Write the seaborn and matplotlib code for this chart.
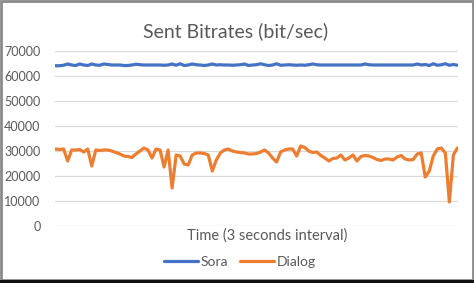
import numpy as np
import pandas as pd
import matplotlib
matplotlib.use("Agg")
import matplotlib.pyplot as plt
import seaborn as sns
from matplotlib.patches import Rectangle
from matplotlib.lines import Line2D

title = "Sent Bitrates (bit/sec)"
x_label = "Time (3 seconds interval)"
series_names = ["Sora", "Dialog"]
y_ticks = [0, 10000, 20000, 30000, 40000, 50000, 60000, 70000]

sora = [64100, 64100, 64300, 64800, 64400, 64200, 64800, 64400, 64200, 64800,
        64400, 64300, 64800, 64600, 64400, 64400, 64400, 64200, 64200, 64400,
        64700, 64500, 64400, 64400, 64400, 64400, 64400, 64300, 64400, 64800,
        64300, 64900, 64200, 64400, 64800, 64500, 64400, 64200, 64400, 64800,
        64400, 64500, 64400, 64400, 64300, 64400, 64500, 64800, 64200, 64400,
        64500, 64900, 64500, 64200, 64400, 64900, 64300, 64400, 64500, 64400,
        64300, 64400, 64300, 64500, 64800, 64500, 64400, 64400, 64400, 64400,
        64400, 64400, 64400, 64400, 64400, 64400, 64400, 64800, 64500, 64400,
        64400, 64400, 64400, 64400, 64400, 64400, 64400, 64400, 64400, 64400,
        64800, 64400, 64600, 64200, 64900, 64300, 64500, 64900, 64300, 64600,
        64300]

dialog = [30800, 30600, 30800, 26000, 30400, 30400, 30600, 29600, 30800, 24000,
          30400, 30200, 30400, 30400, 30000, 29400, 28800, 28000, 27800, 27400,
          28800, 30000, 31200, 30400, 27200, 30800, 30400, 23600, 30400, 15200,
          28400, 28000, 24800, 24400, 28400, 29200, 29200, 29000, 28400, 22000,
          26400, 29200, 30400, 30800, 30000, 29600, 29400, 29200, 28800, 28800,
          29000, 29600, 30400, 29200, 27200, 25600, 29600, 30400, 30800, 30800,
          28000, 32000, 31400, 30000, 29400, 29600, 28200, 27200, 26000, 27000,
          27200, 28400, 26400, 27200, 28400, 26000, 27800, 28200, 28000, 27400,
          26600, 26200, 26800, 26800, 26400, 27600, 28200, 26800, 26400, 26600,
          28800, 29200, 19600, 22000, 28000, 30800, 31200, 29200, 9600, 28400,
          31200]

n = len(dialog)
df = pd.DataFrame({
    "t": list(range(n)) * 2,
    "value": sora + dialog,
    "series": [series_names[0]] * n + [series_names[1]] * n,
})

sns.set_style("white")
plt.rcParams["font.family"] = ["Lato", "DejaVu Sans"]

W, H = 474, 283
fig = plt.figure(figsize=(W / 100, H / 100), dpi=100)
ax = fig.add_axes([55 / W, 1 - 226 / H, (458 - 55) / W, (226 - 51) / H])

palette = {"Sora": "#4472C4", "Dialog": "#ED7D31"}
sns.lineplot(data=df, x="t", y="value", hue="series", palette=palette,
             linewidth=2.3, ax=ax, legend=False)

ax.set_xlim(-0.15, n - 1 + 0.15)
ax.set_ylim(0, 70000)
ax.set_yticks(y_ticks)
ax.set_yticklabels([str(v) for v in y_ticks], color="#595959", fontsize=9)
ax.set_xticks([])
ax.tick_params(axis="y", length=0, pad=10.5)
ax.grid(axis="y", color="#D9D9D9", linewidth=0.9)
ax.set_axisbelow(True)
for s in ax.spines.values():
    s.set_visible(False)
ax.set_xlabel("")
ax.set_ylabel("")

fig.text(236 / W, 1 - 31 / H, title, ha="center", va="center",
         fontsize=14, color="#595959")
fig.text(267 / W, 1 - 236 / H, x_label, ha="center", va="center",
         fontsize=10.5, color="#595959")

handles = [Line2D([], [], color=palette[s], linewidth=2.3) for s in series_names]
fig.legend(handles, series_names, loc="center", bbox_to_anchor=(240 / W, 1 - 262 / H),
           ncol=2, frameon=False, fontsize=10, handlelength=2.4, handletextpad=0.2,
           columnspacing=0.9, labelcolor="#595959")

fig.patches.append(Rectangle((0.002, 0.01), 0.996, 0.985, transform=fig.transFigure,
                             fill=False, edgecolor="#8a8a8a", linewidth=2.0))
fig.patches.append(Rectangle((0, 0), 1, 3 / H, transform=fig.transFigure,
                             facecolor="#111111", edgecolor="none"))

fig.savefig("out.png", dpi=100)
